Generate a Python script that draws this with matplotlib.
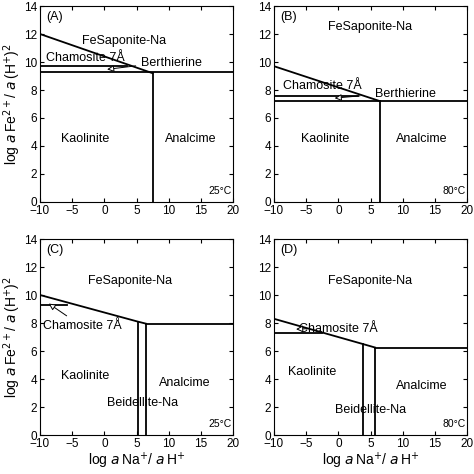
import matplotlib
matplotlib.use("Agg")
import matplotlib.pyplot as plt

plt.rcParams['font.family'] = ['Liberation Sans', 'DejaVu Sans']

labels = ["(A)", "(B)", "(C)", "(D)"]
temps = ["25°C", "80°C", "25°C", "80°C"]
segs = {
    "A": [([-10, 7.5], [12, 9.2]), ([-10, 3.5], [9.7, 9.7]), ([-10, 20], [9.3, 9.3]), ([7.5, 7.5], [0, 9.2])],
    "B": [([-10, 6.5], [9.7, 7.2]), ([-10, 3.0], [7.6, 7.6]), ([-10, 20], [7.2, 7.2]), ([6.5, 6.5], [0, 7.2])],
    "C": [([-10, 5.2, 6.5], [10.0, 8.1, 7.95]), ([-10, -5.8], [9.3, 9.3]), ([5.2, 5.2], [0, 8.1]),
          ([6.5, 6.5], [0, 7.95]), ([6.5, 20], [7.95, 7.95])],
    "D": [([-10, 3.8, 5.7], [8.3, 6.5, 6.25]), ([-10, -2.5], [7.3, 7.3]), ([3.8, 3.8], [0, 6.5]),
          ([5.7, 5.7], [0, 6.25]), ([5.7, 20], [6.25, 6.25])],
}
texts = {
    "A": [(3, 11.5, "FeSaponite-Na"), (-3, 10.3, "Chamosite 7Å"), (-3, 4.5, "Kaolinite"), (13.5, 4.5, "Analcime")],
    "B": [(5, 12.5, "FeSaponite-Na"), (-2.5, 8.3, "Chamosite 7Å"), (-2, 4.5, "Kaolinite"), (13, 4.5, "Analcime")],
    "C": [(4, 11, "FeSaponite-Na"), (-3.5, 7.8, "Chamosite 7Å"), (-3, 4.2, "Kaolinite"), (12.5, 3.7, "Analcime"),
          (6, 2.3, "Beidellite-Na")],
    "D": [(5, 11, "FeSaponite-Na"), (0, 7.6, "Chamosite 7Å"), (-4, 4.5, "Kaolinite"), (13, 3.5, "Analcime"),
          (5, 1.8, "Beidellite-Na")],
}
arrows = {
    "A": ((0, 9.45), (5.3, 9.75), "Berthierine", (10.5, 9.9)),
    "B": ((-1, 7.4), (3.8, 7.6), "Berthierine", (10.5, 7.7)),
    "C": ((-9, 9.5), (-5.5, 8.4), None, None),
    "D": ((-7, 7.55), (-4.5, 7.6), None, None),
}
positions = [(40, 6), (274, 6), (40, 239), (274, 239)]
W = 474.0
fig = plt.figure(figsize=(4.74, 4.74), dpi=100)
for i, key in enumerate("ABCD"):
    x0, y0 = positions[i]
    ax = fig.add_axes([x0 / W, 1 - (y0 + 196) / W, 193 / W, 196 / W])
    for xs, ys in segs[key]:
        ax.plot(xs, ys, color='black', lw=1.3)
    for x, y, t in texts[key]:
        ax.text(x, y, t, ha='center', va='center', fontsize=9)
    tip, tail, lab, lpos = arrows[key]
    ax.annotate("", xy=tip, xytext=tail,
                arrowprops=dict(arrowstyle='-|>', fc='white', ec='black', lw=0.7, mutation_scale=10))
    if lab:
        ax.text(lpos[0], lpos[1], lab, ha='center', va='center', fontsize=9)
    ax.text(-9, 13.2, labels[i], ha='left', va='center', fontsize=9)
    ax.text(19.8, 0.4, temps[i], ha='right', va='bottom', fontsize=7.5)
    ax.set_xlim(-10, 20)
    ax.set_ylim(0, 14)
    ax.set_xticks([-10, -5, 0, 5, 10, 15, 20])
    ax.set_yticks(range(0, 15, 2))
    ax.tick_params(direction='in', labelsize=8.5, top=True, right=True, length=3, pad=2)
    if i in (0, 2):
        ax.set_ylabel(r"log $a\,$Fe$^{2+}$/ $a\,$(H$^{+}$)$^{2}$", fontsize=10, labelpad=1)
    if i in (2, 3):
        ax.set_xlabel(r"log $a\,$Na$^{+}$/ $a\,$H$^{+}$", fontsize=10, labelpad=1)
fig.savefig("out.png", dpi=100)
